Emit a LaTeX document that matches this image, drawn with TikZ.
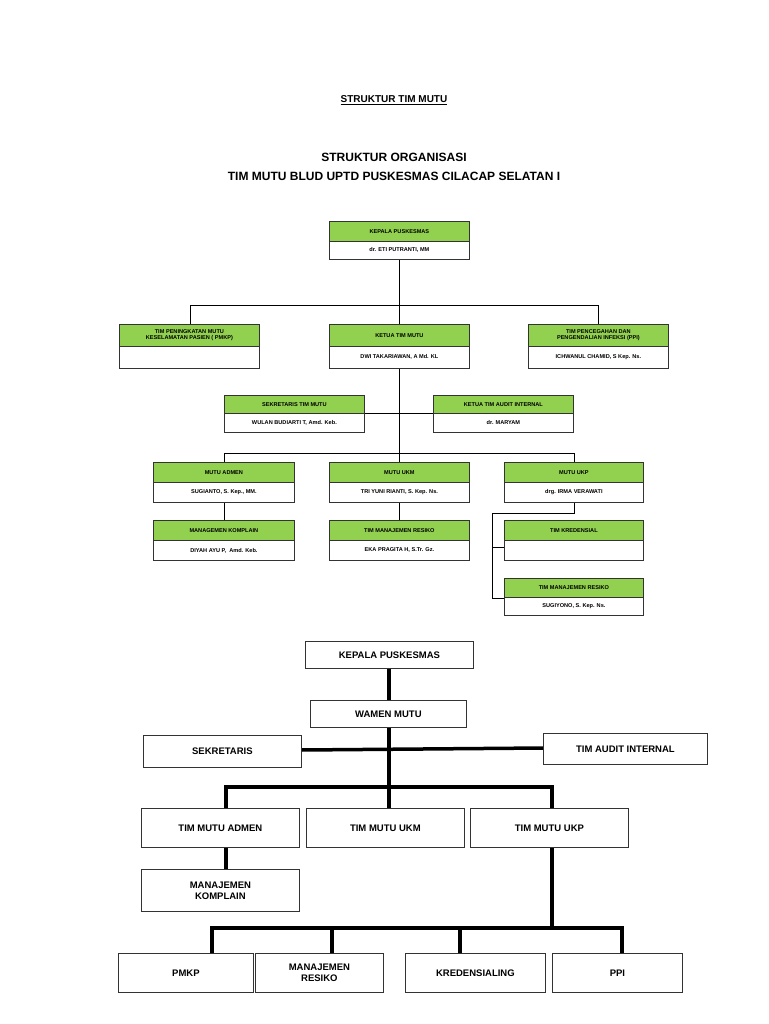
\documentclass[tikz,border=0pt]{standalone}
\usepackage{fontspec}
\setmainfont{Liberation Sans}
\begin{document}
\begin{tikzpicture}[x=1pt,y=-1pt,
  hd/.style={draw=black!80,fill=grn,line width=0.8pt,inner sep=0pt,font=\bfseries\fontsize{5.6}{6.4}\selectfont,align=center},
  bd/.style={draw=black!80,fill=white,line width=0.8pt,inner sep=0pt,font=\bfseries\fontsize{5.6}{6.4}\selectfont,align=center},
  bx/.style={draw=black!80,fill=white,line width=0.8pt,inner sep=0pt,font=\bfseries\fontsize{9.5}{11}\selectfont,align=center},
  ln/.style={line width=1pt},
  tk/.style={line width=3.5pt}]
\definecolor{grn}{HTML}{92D050}
\useasboundingbox (0,0) rectangle (768,1024);
\fill[white] (0,0) rectangle (768,1024);
% titles
\node[font=\bfseries\fontsize{10}{12}\selectfont] (t0) at (394,100) {\underline{STRUKTUR TIM MUTU}};
\node[font=\bfseries\fontsize{12}{14}\selectfont] (t1) at (394,157) {STRUKTUR ORGANISASI};
\node[font=\bfseries\fontsize{12}{14}\selectfont] (t2) at (394,176) {TIM MUTU BLUD UPTD PUSKESMAS CILACAP SELATAN I};
% ---- top chart connectors
\draw[ln] (399,259) -- (399,462);
\draw[ln] (190,324) -- (190,305) -- (598,305) -- (598,324);
\draw[ln] (294,413) -- (503,413);
\draw[ln] (224,462) -- (224,453) -- (574,453) -- (574,462);
\draw[ln] (224,502) -- (224,520);
\draw[ln] (399,502) -- (399,520);
\draw[ln] (574,502) -- (574,513) -- (492,513) -- (492,598) -- (504,598);
\draw[ln] (492,547) -- (504,547);
% macro-free boxes: header + body
\newcommand{\obox}[8]{% name x1 x2 y1 ysplit y2 head body
  \node[hd,minimum width=#3-#2,minimum height=#5-#4,anchor=north west] (#1h) at (#2,#4) {#7};
  \node[bd,minimum width=#3-#2,minimum height=#6-#5,anchor=north west] (#1b) at (#2,#5) {#8};}
\obox{kp}{329}{469}{221}{241}{259}{KEPALA PUSKESMAS}{dr. ETI PUTRANTI, MM}
\obox{pmkp}{119}{259}{324}{346}{368}{TIM PENINGKATAN MUTU\\KESELAMATAN PASIEN ( PMKP)}{}
\obox{kt}{329}{469}{324}{346}{368}{KETUA TIM MUTU}{DWI TAKARIAWAN, A Md. KL}
\obox{ppi}{528}{668}{324}{346}{368}{TIM PENCEGAHAN DAN\\PENGENDALIAN INFEKSI (PPI)}{ICHWANUL CHAMID, S Kep. Ns.}
\obox{sk}{224}{364}{395}{413}{432}{SEKRETARIS TIM MUTU}{WULAN BUDIARTI T, Amd. Keb.}
\obox{au}{433}{573}{395}{413}{432}{KETUA TIM AUDIT INTERNAL}{dr. MARYAM}
\obox{ma}{153}{294}{462}{482}{502}{MUTU ADMEN}{SUGIANTO, S. Kep., MM.}
\obox{mk}{329}{469}{462}{482}{502}{MUTU UKM}{TRI YUNI RIANTI, S. Kep. Ns.}
\obox{mp}{504}{643}{462}{482}{502}{MUTU UKP}{drg. IRMA VERAWATI}
\obox{kom}{153}{294}{520}{540}{560}{MANAGEMEN KOMPLAIN}{DIYAH AYU P,\ \ Amd. Keb.}
\obox{res}{329}{469}{520}{540}{560}{TIM MANAJEMEN RESIKO}{EKA PRAGITA H, S.Tr. Gz.}
\obox{kre}{504}{643}{520}{540}{560}{TIM KREDENSIAL}{}
\obox{res2}{504}{643}{578}{597}{615}{TIM MANAJEMEN RESIKO}{SUGIYONO, S. Kep. Ns.}
% ---- bottom chart connectors
\draw[tk] (389,668) -- (389,700);
\draw[tk] (389,727) -- (389,808);
\draw[tk] (301,750) -- (543,748);
\draw[tk] (226,808) -- (226,787) -- (552,787) -- (552,808);
\draw[tk] (226,847) -- (226,869);
\draw[tk] (552,847) -- (552,928);
\draw[tk] (212,953) -- (212,928) -- (622,928) -- (622,953);
\draw[tk] (332,928) -- (332,953);
\draw[tk] (460,928) -- (460,953);
\newcommand{\bbox}[6]{\node[bx,minimum width=#3-#2,minimum height=#5-#4,anchor=north west] (#1) at (#2,#4) {#6};}
\bbox{bkp}{305}{473}{641}{668}{KEPALA PUSKESMAS}
\bbox{bwm}{310}{466}{700}{727}{WAMEN MUTU}
\bbox{bsk}{143}{301}{735}{767}{SEKRETARIS}
\bbox{bau}{543}{707}{733}{764}{TIM AUDIT INTERNAL}
\bbox{bad}{141}{299}{808}{847}{TIM MUTU ADMEN}
\bbox{bukm}{306}{464}{808}{847}{TIM MUTU UKM}
\bbox{bukp}{470}{628}{808}{847}{TIM MUTU UKP}
\bbox{bkom}{141}{299}{869}{911}{MANAJEMEN\\KOMPLAIN}
\bbox{bpm}{118}{253}{953}{992}{PMKP}
\bbox{bres}{255}{383}{953}{992}{MANAJEMEN\\RESIKO}
\bbox{bkr}{405}{545}{953}{992}{KREDENSIALING}
\bbox{bppi}{552}{682}{953}{992}{PPI}
\end{tikzpicture}
\end{document}
